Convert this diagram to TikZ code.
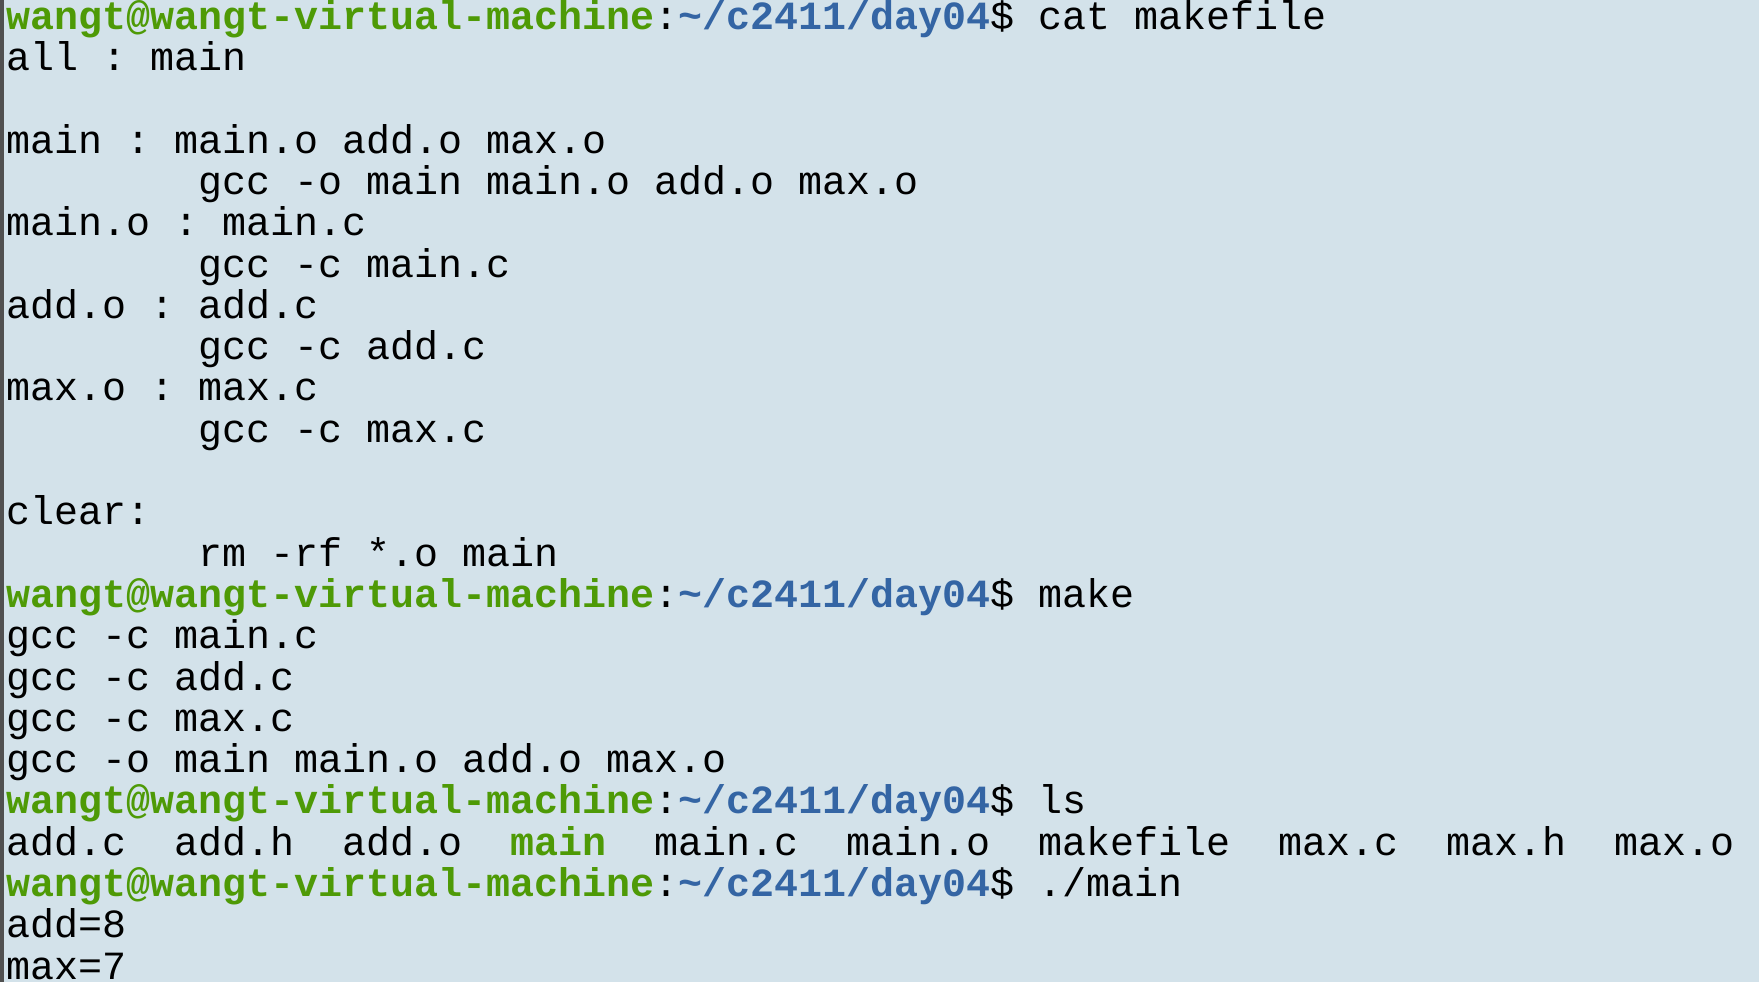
\documentclass[tikz,border=0pt]{standalone}
\usepackage{fontspec}
\setmonofont{Liberation Mono}
\definecolor{bg}{HTML}{D3E2EA}
\definecolor{pg}{HTML}{4E9A06}
\definecolor{pb}{HTML}{3465A4}
\definecolor{bar}{HTML}{505050}
\newcommand{\prm}{\textcolor{pg}{\bfseries wangt@wangt-virtual-machine}:\textcolor{pb}{\bfseries \char`~/c2411/day04}\$}
\begin{document}
\begin{tikzpicture}[x=1pt,y=1pt,
  ln/.style={anchor=base west,inner sep=0pt,font=\ttfamily\fontsize{20}{20}\selectfont,text=black}]
\fill[bg] (0,0) rectangle (879.5,-491);
\useasboundingbox (0,0) rectangle (879.5,-491);
\fill[bar] (0,0) rectangle (2,-491);
\def\Y#1{-(14.6+20.65*#1)}
\node[ln] (l0) at (3,{\Y{0}}) {\prm\ cat makefile};
\node[ln] (l1) at (3,{\Y{1}}) {all : main};
\node[ln] (l3) at (3,{\Y{3}}) {main : main.o add.o max.o};
\node[ln] (l4) at (3,{\Y{4}}) {\ \ \ \ \ \ \ \ gcc -o main main.o add.o max.o};
\node[ln] (l5) at (3,{\Y{5}}) {main.o : main.c};
\node[ln] (l6) at (3,{\Y{6}}) {\ \ \ \ \ \ \ \ gcc -c main.c};
\node[ln] (l7) at (3,{\Y{7}}) {add.o : add.c};
\node[ln] (l8) at (3,{\Y{8}}) {\ \ \ \ \ \ \ \ gcc -c add.c};
\node[ln] (l9) at (3,{\Y{9}}) {max.o : max.c};
\node[ln] (l10) at (3,{\Y{10}}) {\ \ \ \ \ \ \ \ gcc -c max.c};
\node[ln] (l12) at (3,{\Y{12}}) {clear:};
\node[ln] (l13) at (3,{\Y{13}}) {\ \ \ \ \ \ \ \ rm -rf *.o main};
\node[ln] (l14) at (3,{\Y{14}}) {\prm\ make};
\node[ln] (l15) at (3,{\Y{15}}) {gcc -c main.c};
\node[ln] (l16) at (3,{\Y{16}}) {gcc -c add.c};
\node[ln] (l17) at (3,{\Y{17}}) {gcc -c max.c};
\node[ln] (l18) at (3,{\Y{18}}) {gcc -o main main.o add.o max.o};
\node[ln] (l19) at (3,{\Y{19}}) {\prm\ ls};
\node[ln] (l20) at (3,{\Y{20}}) {add.c\ \ add.h\ \ add.o\ \ \textcolor{pg}{\bfseries main}\ \ main.c\ \ main.o\ \ makefile\ \ max.c\ \ max.h\ \ max.o};
\node[ln] (l21) at (3,{\Y{21}}) {\prm\ ./main};
\node[ln] (l22) at (3,{\Y{22}}) {add=8};
\node[ln] (l23) at (3,{\Y{23}}) {max=7};
\end{tikzpicture}
\end{document}
